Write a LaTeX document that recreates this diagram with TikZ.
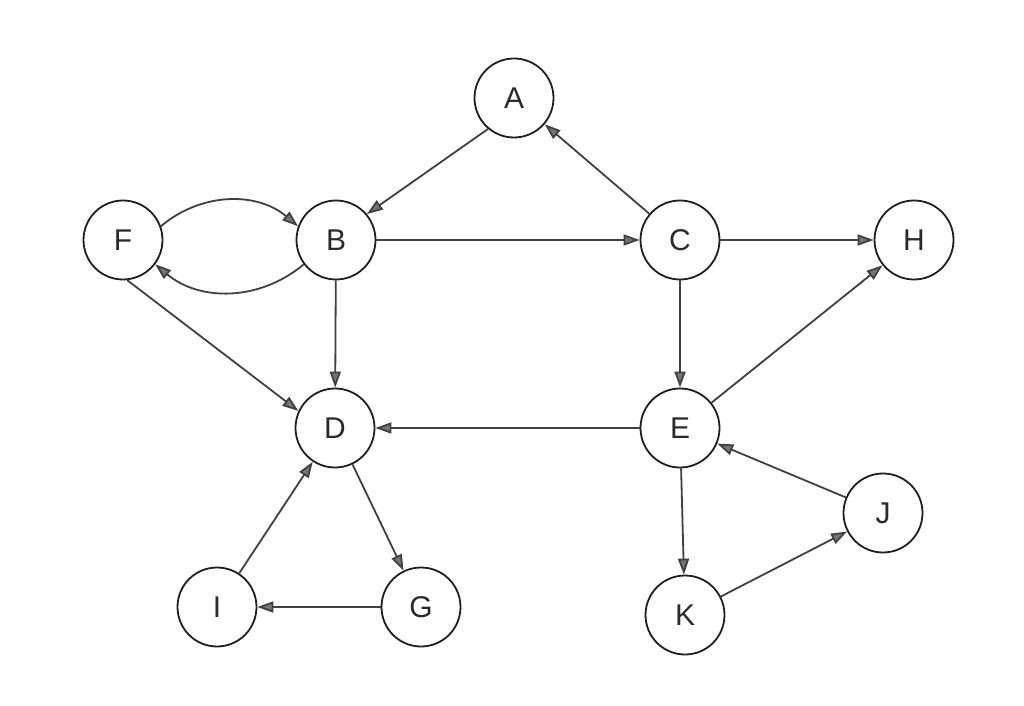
\documentclass[tikz,border=0pt]{standalone}
\usepackage{fontspec}
\setmainfont{Liberation Sans}
\usetikzlibrary{arrows.meta}
\definecolor{edgecol}{HTML}{404040}
\definecolor{tipcol}{HTML}{757575}
\definecolor{textcol}{HTML}{2A2A2A}
\begin{document}
\begin{tikzpicture}[x=1pt,y=1pt,
  vertex/.style={circle,draw=black!88,line width=1.8pt,minimum size=79pt,inner sep=0pt,
    text=textcol,font=\fontsize{30}{36}\selectfont},
  edge/.style={draw=edgecol,line width=1.8pt,
    -{Triangle[length=16pt,width=11pt,fill=tipcol]}}]
\useasboundingbox (0,0) rectangle (1024,705);
\node[vertex] (A) at (514,607) {A};
\node[vertex] (B) at (336,465) {B};
\node[vertex] (C) at (680,465) {C};
\node[vertex] (F) at (123,465) {F};
\node[vertex] (H) at (914,465) {H};
\node[vertex] (D) at (335,277) {D};
\node[vertex] (E) at (680,277) {E};
\node[vertex] (J) at (883,192) {J};
\node[vertex] (I) at (217,98) {I};
\node[vertex] (G) at (421,98) {G};
\node[vertex] (K) at (685,90) {K};
\draw[edge] (A.230) -- (B.40);
\draw[edge] (C) -- (A);
\draw[edge] (B) -- (C);
\draw[edge] (C) -- (H);
\draw[edge] (C) -- (E);
\draw[edge] (F.20) to[out=40,in=140] (B.160);
\draw[edge] (B.-143) to[out=-140,in=-40] (F.-37);
\draw[edge] (F.-84) -- (D.155);
\draw[edge] (B) -- (D);
\draw[edge] (E) -- (D);
\draw[edge] (E) -- (H);
\draw[edge] (E) -- (K);
\draw[edge] (J) -- (E);
\draw[edge] (K) -- (J);
\draw[edge] (D) -- (G);
\draw[edge] (G) -- (I);
\draw[edge] (I) -- (D);
\end{tikzpicture}
\end{document}
